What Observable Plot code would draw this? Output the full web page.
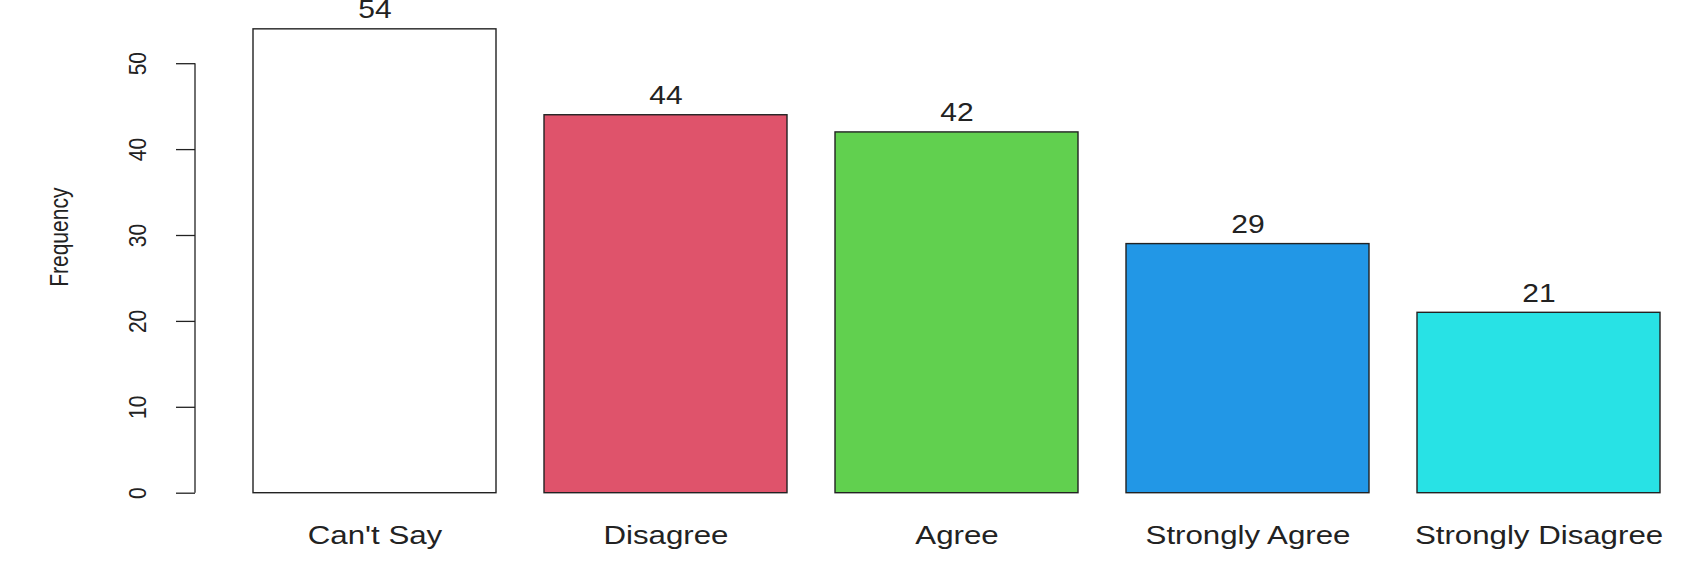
<!DOCTYPE html>
<html>
<head>
<meta charset="utf-8">
<script src="https://cdn.jsdelivr.net/npm/d3@7"></script>
<script src="https://cdn.jsdelivr.net/npm/@observablehq/plot@0.6"></script>
<style>
  html, body { margin: 0; padding: 0; background: #fff; }
  #chart svg { display: block; }
</style>
</head>
<body>
<div id="chart"></div>
<script>
// Data
const categories = ["Can't Say", "Disagree", "Agree", "Strongly Agree", "Strongly Disagree"];
const frequencies = [54, 44, 42, 29, 21];
const barColors = ["#FFFFFF", "#DF536B", "#61D04F", "#2297E6", "#28E2E5"];
const yTicks = [0, 10, 20, 30, 40, 50];
const yLimit = 60;
const yLabel = "Frequency";

const rows = categories.map((c, i) => ({cat: c, value: frequencies[i], color: barColors[i]}));

const W = 1693, H = 575;
const mLeft = 195, mBottom = 82.3, mTop = -19.3;
const ink = "#222";
const font = "'Liberation Sans', Arial, sans-serif";

const chart = Plot.plot({
  width: W,
  height: H,
  marginLeft: mLeft,
  marginRight: 0,
  marginTop: mTop,
  marginBottom: mBottom,
  style: {fontFamily: font, background: "#fff", color: ink, overflow: "visible"},
  x: {type: "band", domain: categories, range: [227.4, 1684.3], paddingInner: 1/6, paddingOuter: 1/12, align: 0.5, label: null},
  y: {domain: [0, yLimit], range: [492.7, -22.7], label: null},
  color: {type: "identity"},
  marks: [
    Plot.barY(rows, {x: "cat", y: "value", fill: "color", stroke: ink, strokeWidth: 1.4}),
    Plot.text(rows, {x: "cat", y: "value", text: d => String(d.value), lineAnchor: "bottom", dy: -11, fontSize: 25, fill: ink}),
    Plot.axisY({ticks: yTicks, tickSize: 19, tickPadding: 31, tickRotate: -90, fontSize: 21, stroke: ink, strokeWidth: 1.3, fill: ink,
      label: yLabel, labelAnchor: "center", labelArrow: "none", labelOffset: 146, tickFormat: d => String(d)}),
    Plot.axisX({tickSize: 0, tickPadding: 33, fontSize: 25, fill: ink, label: null})
  ]
});

document.getElementById("chart").appendChild(chart);

// Axis line spanning the tick range, using Plot's own y scale
const ys = chart.scale("y");
d3.select(chart).append("line")
  .attr("x1", mLeft).attr("x2", mLeft)
  .attr("y1", ys.apply(yTicks[0])).attr("y2", ys.apply(yTicks[yTicks.length - 1]))
  .attr("stroke", ink).attr("stroke-width", 1.3);

// The reference glyphs are horizontally stretched; mimic that
d3.select(chart).selectAll("text").each(function () {
  const el = d3.select(this);
  const t = el.attr("transform") || "";
  const g = this.parentNode && this.parentNode.getAttribute("aria-label") || "";
  if (/rotate/.test(t)) {
    const k = /tick/.test(g) ? 1.12 : 1.25;
    el.attr("transform", t + ` scale(1,${k})`);
  } else if (/x-axis/.test(g)) {
    el.attr("transform", t + " scale(1.25,1)");
  } else {
    el.attr("transform", t + " scale(1.2,1)");
  }
});
</script>
</body>
</html>
